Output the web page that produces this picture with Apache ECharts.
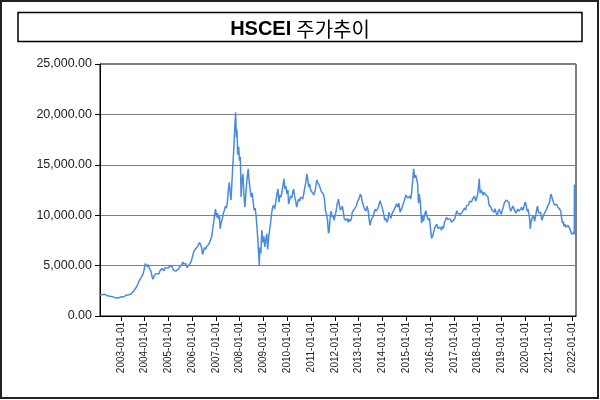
<!DOCTYPE html>
<html>
<head>
<meta charset="utf-8">
<script src="https://cdn.jsdelivr.net/npm/echarts@6/dist/echarts.min.js"></script>
<style>
html,body{margin:0;padding:0;background:#fff;}
#chart{width:600px;height:400px;}
</style>
</head>
<body>
<div id="chart"></div>
<script>
const titleMain = 'HSCEI';
const titleSub = '주가추이';
const yTicks = [0, 5000, 10000, 15000, 20000, 25000];

const dates = [
'2002-02-15','2002-03-01','2002-03-20','2002-04-10','2002-05-01','2002-05-20','2002-06-10','2002-07-01','2002-07-20','2002-08-10','2002-09-01','2002-09-20','2002-10-10','2002-11-01','2002-11-20','2002-12-10',
'2003-01-01','2003-01-20','2003-02-10','2003-03-01','2003-03-20','2003-04-10','2003-05-01','2003-05-20','2003-06-10','2003-07-01','2003-07-20','2003-08-10','2003-09-01','2003-09-20','2003-10-10','2003-10-25','2003-11-10','2003-11-25','2003-12-10','2003-12-25',
'2004-01-10','2004-01-25','2004-02-10','2004-02-25','2004-03-10','2004-03-25','2004-04-10','2004-04-25','2004-05-10','2004-05-25','2004-06-10','2004-06-25','2004-07-10','2004-07-25','2004-08-10','2004-08-25','2004-09-10','2004-09-25','2004-10-10','2004-10-25','2004-11-10','2004-11-25','2004-12-10','2004-12-25',
'2005-01-10','2005-01-25','2005-02-10','2005-02-25','2005-03-10','2005-03-25','2005-04-10','2005-04-25','2005-05-10','2005-05-25','2005-06-10','2005-06-25','2005-07-10','2005-07-25','2005-08-10','2005-08-25','2005-09-10','2005-09-25','2005-10-10','2005-10-25','2005-11-10','2005-11-25','2005-12-10','2005-12-25',
'2006-01-10','2006-01-25','2006-02-10','2006-02-25','2006-03-10','2006-03-25','2006-04-10','2006-04-25','2006-05-10','2006-05-25','2006-06-10','2006-06-25','2006-07-10','2006-07-25','2006-08-10','2006-08-25','2006-09-10','2006-09-25','2006-10-10','2006-10-25','2006-11-10','2006-11-25','2006-12-10','2006-12-25',
'2007-01-10','2007-01-25','2007-02-10','2007-02-25','2007-03-05','2007-03-20','2007-04-10','2007-04-25','2007-05-10','2007-05-25','2007-06-10','2007-06-25','2007-07-10','2007-07-25','2007-08-10','2007-08-20','2007-09-01','2007-09-15','2007-10-01','2007-10-15','2007-10-30','2007-11-10','2007-11-20','2007-12-01','2007-12-15','2007-12-28',
'2008-01-10','2008-01-22','2008-02-05','2008-02-20','2008-03-05','2008-03-20','2008-04-05','2008-04-20','2008-05-10','2008-05-25','2008-06-10','2008-06-25','2008-07-10','2008-07-25','2008-08-10','2008-08-25','2008-09-10','2008-09-20','2008-10-05','2008-10-27','2008-11-05','2008-11-20','2008-12-05','2008-12-20',
'2009-01-05','2009-01-20','2009-02-05','2009-02-20','2009-03-05','2009-03-20','2009-04-05','2009-04-20','2009-05-05','2009-05-20','2009-06-05','2009-06-20','2009-07-05','2009-07-25','2009-08-10','2009-08-25','2009-09-10','2009-09-25','2009-10-10','2009-10-25','2009-11-10','2009-11-25','2009-12-10','2009-12-25',
'2010-01-10','2010-01-20','2010-02-05','2010-02-20','2010-03-10','2010-03-25','2010-04-08','2010-04-25','2010-05-10','2010-05-25','2010-06-10','2010-06-25','2010-07-10','2010-07-25','2010-08-10','2010-08-25','2010-09-10','2010-09-25','2010-10-10','2010-10-27','2010-11-10','2010-11-25','2010-12-10','2010-12-25',
'2011-01-10','2011-01-25','2011-02-10','2011-02-25','2011-03-10','2011-03-28','2011-04-10','2011-04-25','2011-05-10','2011-05-25','2011-06-10','2011-06-25','2011-07-10','2011-07-25','2011-08-08','2011-08-25','2011-09-10','2011-09-25','2011-10-05','2011-10-20','2011-11-05','2011-11-20','2011-12-05','2011-12-20',
'2012-01-05','2012-01-20','2012-02-05','2012-02-25','2012-03-10','2012-03-25','2012-04-10','2012-04-25','2012-05-10','2012-05-25','2012-06-10','2012-06-25','2012-07-10','2012-07-25','2012-08-10','2012-08-25','2012-09-10','2012-09-25','2012-10-10','2012-10-25','2012-11-10','2012-11-25','2012-12-10','2012-12-25',
'2013-01-10','2013-01-25','2013-02-10','2013-02-25','2013-03-10','2013-03-25','2013-04-05','2013-04-20','2013-05-10','2013-05-25','2013-06-10','2013-06-25','2013-07-10','2013-07-25','2013-08-10','2013-08-25','2013-09-10','2013-09-25','2013-10-10','2013-10-25','2013-11-10','2013-11-25','2013-12-10','2013-12-25',
'2014-01-10','2014-01-25','2014-02-05','2014-02-20','2014-03-10','2014-03-25','2014-04-10','2014-04-25','2014-05-10','2014-05-25','2014-06-10','2014-06-25','2014-07-10','2014-07-25','2014-08-05','2014-08-25','2014-09-10','2014-09-28','2014-10-10','2014-10-25','2014-11-10','2014-11-25','2014-12-10','2014-12-25',
'2015-01-10','2015-01-25','2015-02-10','2015-02-25','2015-03-10','2015-03-25','2015-04-10','2015-04-25','2015-05-10','2015-05-25','2015-06-10','2015-06-25','2015-07-08','2015-07-20','2015-08-05','2015-08-25','2015-09-10','2015-09-25','2015-10-10','2015-10-30','2015-11-10','2015-11-25','2015-12-10','2015-12-25',
'2016-01-10','2016-01-25','2016-02-10','2016-02-25','2016-03-15','2016-03-30','2016-04-15','2016-04-30','2016-05-20','2016-06-05','2016-06-25','2016-07-10','2016-07-25','2016-08-10','2016-08-25','2016-09-10','2016-09-25','2016-10-10','2016-10-25','2016-11-10','2016-11-25','2016-12-10','2016-12-25',
'2017-01-10','2017-01-25','2017-02-15','2017-03-01','2017-03-20','2017-04-10','2017-04-25','2017-05-10','2017-05-30','2017-06-15','2017-06-30','2017-07-15','2017-07-30','2017-08-15','2017-08-30','2017-09-15','2017-09-30','2017-10-15','2017-10-30','2017-11-15','2017-11-30','2017-12-15','2017-12-30',
'2018-01-15','2018-01-26','2018-02-08','2018-02-25','2018-03-10','2018-03-25','2018-04-10','2018-04-25','2018-05-20','2018-06-10','2018-06-25','2018-07-10','2018-07-25','2018-08-10','2018-08-25','2018-09-10','2018-09-25','2018-10-10','2018-10-30','2018-11-15','2018-11-30','2018-12-15','2018-12-30',
'2019-01-15','2019-01-30','2019-02-15','2019-02-28','2019-03-15','2019-03-25','2019-04-10','2019-04-25','2019-05-10','2019-05-25','2019-06-10','2019-06-25','2019-07-10','2019-07-25','2019-08-10','2019-08-25','2019-09-10','2019-09-25','2019-10-10','2019-10-25','2019-11-10','2019-11-25','2019-12-10','2019-12-31',
'2020-01-15','2020-01-30','2020-02-15','2020-02-28','2020-03-10','2020-03-19','2020-04-01','2020-04-15','2020-05-08','2020-05-25','2020-06-10','2020-06-28','2020-07-10','2020-07-25','2020-08-10','2020-08-25','2020-09-12','2020-09-25','2020-10-10','2020-10-25','2020-11-10','2020-11-28','2020-12-10','2020-12-25',
'2021-01-10','2021-01-30','2021-02-15','2021-02-28','2021-03-15','2021-03-30','2021-04-15','2021-04-30','2021-05-15','2021-05-30','2021-06-15','2021-06-30','2021-07-15','2021-07-28','2021-08-10','2021-08-20','2021-09-05','2021-09-20','2021-10-05','2021-10-20','2021-11-05','2021-11-20','2021-12-05','2021-12-20',
'2022-01-05','2022-01-18','2022-01-25','2022-01-27'
];

const values = [
2050,2080,2120,2060,2150,2100,2000,2050,1950,1980,1900,1870,1800,1850,1780,1830,
1900,1950,1880,1920,2050,2000,2100,2080,2200,2250,2500,2700,2900,3200,3500,3400,3800,3700,4200,4600,
5200,5300,4900,5100,4800,4600,4400,3900,3650,4000,3900,4200,4100,4350,4200,4500,4400,4700,4600,4500,4800,4700,4900,4750,
4850,4950,4800,4900,4700,4500,4600,4450,4600,4500,4700,4900,4850,5100,5350,5150,5000,5200,4800,4900,5050,4950,5300,5600,
6000,6350,6500,6700,6600,6900,7100,7300,7350,6800,6100,6500,6800,6600,6900,7000,7100,7300,7400,7800,8500,9200,10000,10600,
9800,10200,9600,9900,8650,9200,9700,10200,10500,10900,10700,11300,12500,13250,12100,11500,13000,14750,16500,18500,20200,17700,18500,16000,16800,15400,
15800,11800,13500,14100,12000,10800,12200,13500,14600,13300,12500,11800,12200,11300,10500,10700,9800,8900,7600,5050,6800,6200,8500,7300,
7900,6850,7600,8150,6600,7800,8600,9300,10200,10800,11000,10600,11200,12100,12600,11300,12000,11800,12300,12900,13600,12600,12900,12100,
12500,11100,11500,11900,11700,12300,12600,11800,11400,10800,11300,11600,11400,11800,11950,11600,12100,12700,13200,14100,13600,12800,13100,12500,
12600,12200,12000,12300,12600,13500,13300,13200,12900,12600,12300,12450,12100,11600,10500,10100,9500,8200,8400,9800,10400,9800,10000,9500,
9480,10400,11100,11600,11000,10500,10700,10900,10300,9600,9700,9500,9700,9300,9600,9400,9650,10300,10200,10600,10500,10900,11300,11500,
11700,12100,11900,11300,11100,10700,10800,10400,10900,10500,9600,9000,9500,9700,9900,9800,10600,10400,10300,10700,10600,11450,11100,10800,
10400,9900,9500,9700,9300,9500,10300,9900,9700,10100,10300,10500,10600,10900,11130,10800,11200,10300,10400,10700,10800,11300,11600,12000,
12100,11700,11800,11900,11600,12200,13400,14600,13700,14000,13600,13100,11200,12100,11300,9200,9900,9400,10100,10450,10000,9900,9500,9700,
8600,7700,7900,7800,8800,8900,9100,8700,8650,8800,8500,8900,8700,9300,9500,9800,9600,9700,9500,9600,9300,9400,9200,
9600,9900,10450,10200,10300,10100,10200,10300,10450,10700,10500,10950,11100,11000,11400,11500,11300,11600,11650,11900,11400,11600,11950,
12800,13600,12200,12500,12400,12000,12300,12100,12150,11800,11000,10900,10800,10500,10600,10300,10650,10300,9980,10400,10600,10300,10100,
10500,10800,11200,11300,11500,11650,11400,11300,10700,10400,10650,10900,10700,10600,10200,10300,10600,10400,10300,10600,10800,10500,10700,11300,
11100,10400,10600,10100,9600,8650,9300,9700,9980,9400,9900,10650,10900,10200,10100,10300,9500,9700,10000,10100,10400,10650,10600,10500,
11300,12100,12000,11500,11200,11000,10900,11100,10800,10700,10600,10400,9700,9200,9400,8900,9100,8800,8700,9000,8800,8600,8300,8100,
8000,8300,8100,13050
];

const seriesData = dates.map((d, i) => [d, values[i]]);

const chart = echarts.init(document.getElementById('chart'), null, {renderer: 'canvas'});
const YEAR = 365 * 24 * 3600 * 1000;
const fmtNum = v => v.toLocaleString('en-US', {minimumFractionDigits: 2, maximumFractionDigits: 2});

chart.setOption({
  animation: false,
  backgroundColor: '#fff',
  graphic: [
    {type: 'rect', shape: {x: 1, y: 1, width: 597, height: 397}, style: {fill: 'none', stroke: '#222', lineWidth: 2}, silent: true},
    {type: 'rect', shape: {x: 18, y: 12.5, width: 564, height: 29}, style: {fill: 'none', stroke: '#000', lineWidth: 1.5}, silent: true}
  ],
  title: {
    text: '{a|' + titleMain + '} {b|' + titleSub + '}',
    left: 'center',
    top: 14,
    textStyle: {
      rich: {
        a: {fontFamily: 'Liberation Sans, Arial', fontWeight: 'bold', fontSize: 20, color: '#000'},
        b: {fontFamily: 'Noto Sans CJK KR', fontWeight: 'normal', fontSize: 20, color: '#000'}
      }
    }
  },
  grid: {left: 100, right: 24, top: 64, bottom: 84, show: true, borderColor: '#000', borderWidth: 1},
  xAxis: {
    type: 'time',
    min: '2002-02-15',
    max: '2022-02-20',
    minInterval: YEAR,
    maxInterval: YEAR + 2 * 24 * 3600 * 1000,
    splitNumber: 20,
    axisLine: {show: true, lineStyle: {color: '#000', width: 1}},
    axisTick: {show: true, length: 5, lineStyle: {color: '#000'}},
    splitLine: {show: false},
    axisLabel: {
      rotate: 90,
      fontSize: 10,
      fontFamily: 'Liberation Sans, Arial',
      color: '#222',
      margin: 6,
      hideOverlap: false,
      formatter: function (v) {
        const d = new Date(v);
        const mm = String(d.getMonth() + 1).padStart(2, '0');
        const dd = String(d.getDate()).padStart(2, '0');
        return d.getFullYear() + '-' + mm + '-' + dd;
      }
    }
  },
  yAxis: {
    type: 'value',
    min: yTicks[0],
    max: yTicks[yTicks.length - 1],
    interval: 5000,
    axisLine: {show: true, lineStyle: {color: '#000', width: 1}},
    axisTick: {show: true, length: 5, lineStyle: {color: '#000'}},
    splitLine: {show: true, lineStyle: {color: '#808080', width: 1}},
    axisLabel: {
      fontSize: 12.5,
      fontFamily: 'Liberation Sans, Arial',
      color: '#222',
      margin: 8,
      formatter: fmtNum
    }
  },
  series: [{
    type: 'line',
    data: seriesData,
    showSymbol: false,
    symbol: 'none',
    lineStyle: {color: '#4A8BDE', width: 1.5},
    itemStyle: {color: '#4A8BDE'}
  }]
});
</script>
</body>
</html>
